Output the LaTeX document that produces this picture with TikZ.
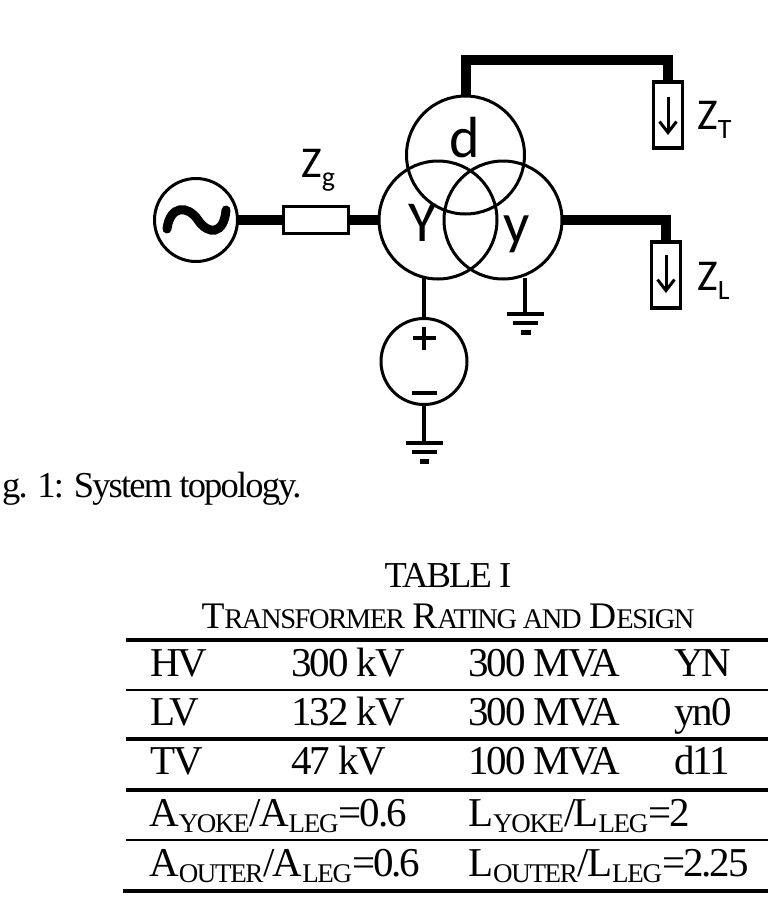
\documentclass[tikz,border=0pt]{standalone}
\usepackage{fontspec}
\usetikzlibrary{arrows.meta}
\setmainfont{Liberation Serif}
\newfontfamily\labelfont{Carlito}
\newfontfamily\tablefont[LetterSpace=-5]{Liberation Serif}
\newcommand{\smallcap}[1]{{\fontsize{28.5}{28.5}\selectfont #1}}
\newcommand{\lowcap}[1]{\raisebox{-6pt}{\fontsize{27}{27}\selectfont #1}}
\newcommand{\zlabel}[1]{Z\raisebox{-9pt}{\fontsize{28}{28}\selectfont #1}}
\tikzset{
    wire/.style = {draw=black, line width=10pt},
    thin-wire/.style = {draw=black, line width=4pt},
    ring/.style = {draw=black, line width=3pt, circle, inner sep=0pt, outer sep=0pt},
    winding/.style = {ring, minimum size=118pt},
    source/.style = {ring, minimum size=83pt},
    load-box/.style = {draw=black, fill=white, line width=3.5pt, rectangle, inner sep=0pt, outer sep=0pt},
    bar/.style = {fill=black, rectangle, inner sep=0pt, outer sep=0pt, minimum height=4pt},
    winding-text/.style = {font=\labelfont\fontsize{58}{58}\selectfont, inner sep=0pt},
    z-text/.style = {font=\labelfont\fontsize{44}{44}\selectfont, inner sep=0pt, anchor=base west},
    table-text/.style = {font=\tablefont\fontsize{41}{41}\selectfont, inner sep=0pt, anchor=base west},
    table-title/.style = {font=\tablefont\fontsize{37.5}{37.5}\selectfont, inner sep=0pt, anchor=base},
    thick-rule/.style = {draw=black, line width=4pt},
    thin-rule/.style = {draw=black, line width=2.5pt},
}

\begin{document}
\begin{tikzpicture}[x=1pt, y=-1pt]
\useasboundingbox (0,0) rectangle (780,916);

% generator and grid impedance
\node [source] (gen) at (196,220) {};
\draw [line width=9pt, line cap=round] (167,229) .. controls (170,205) and (188,205) .. (198,220) .. controls (208,235) and (224,235) .. (226,210);
\node [load-box, minimum width=65pt, minimum height=27pt] (zg) at (316,220) {};
\node [z-text] (zg-text) at (301,177) {\zlabel{g}};

% three windings
\node [winding] (wind-hv) at (438,220) {};
\node [winding] (wind-lv) at (503,220) {};
\node [winding] (wind-tv) at (465.5,155) {};
\node [winding-text] (hv-text) at (423,223) {Y};
\node [winding-text] (lv-text) at (517,234) {y};
\node [winding-text] (tv-text) at (465,138) {d};

% loads
\node [load-box, minimum width=29pt, minimum height=66pt] (zt) at (668,115) {};
\node [load-box, minimum width=29pt, minimum height=66pt] (zl) at (666,275) {};
\node [z-text] (zt-text) at (697,129) {\zlabel{T}};
\node [z-text] (zl-text) at (697,290) {\zlabel{L}};
\coordinate (zt-turn) at (668,59.5);
\coordinate (zl-turn) at (666,220);

\draw [wire] (gen.east) -- (zg.west);
\draw [wire] (zg.east) -- (wind-hv.west);
\draw [wire] (wind-tv.north) |- (zt-turn) -- (zt.north);
\draw [wire] (wind-lv.east) -- (zl-turn) -- (zl.north);

% arrows in the loads
\coordinate (zt-a) at (668,97);
\coordinate (zt-b) at (668,135);
\coordinate (zl-a) at (666,255);
\coordinate (zl-b) at (666,293);
\draw [-{Straight Barb[length=11pt,width=17pt]}, line width=3pt] (zt-a) -- (zt-b);
\draw [-{Straight Barb[length=11pt,width=17pt]}, line width=3pt] (zl-a) -- (zl-b);

% dc source and earths
\node [source, minimum size=86pt] (dc) at (424,361.5) {};
\coordinate (hv-star) at (424,278);
\coordinate (lv-star) at (525,278);
\node [bar, minimum width=37pt] (earth-dc) at (424,443) {};
\node [bar, minimum width=25pt] (earth-dc2) at (424,452) {};
\node [bar, minimum width=9pt, minimum height=5pt] (earth-dc3) at (424,461.5) {};
\node [bar, minimum width=37pt] (earth-lv) at (525,314) {};
\node [bar, minimum width=25pt] (earth-lv2) at (525.5,322.5) {};
\node [bar, minimum width=10pt, minimum height=5pt] (earth-lv3) at (526,332) {};
\node [bar, minimum width=25pt, minimum height=3.5pt] (minus) at (424,393) {};
\node [bar, minimum width=23pt, minimum height=3.5pt] (plus-h) at (424,338) {};
\node [bar, minimum width=3.5pt, minimum height=23pt] (plus-v) at (424,338) {};
\draw [thin-wire] (hv-star) -- (dc.north);
\draw [thin-wire] (dc.south) -- (earth-dc.north);
\draw [thin-wire] (lv-star) -- (earth-lv.north);

% caption
\node [table-text, font=\tablefont\fontsize{36.5}{36.5}\selectfont] (caption) at (2,497) {g. 1: System topology.};

% table
\node [table-title, font=\tablefont\fontsize{36.5}{36.5}\selectfont] (title-a) at (448,587) {TABLE I};
\node [table-title] (title-b) at (448,628) {T\smallcap{RANSFORMER} R\smallcap{ATING AND} D\smallcap{ESIGN}};

\draw [thick-rule] (126,640) -- (768,640);
\draw [thin-rule] (126,690) -- (768,690);
\draw [thick-rule] (126,739) -- (768,739);
\draw [thick-rule] (126,790) -- (768,790);
\draw [thin-rule] (126,840) -- (768,840);
\draw [thick-rule] (123,891) -- (768,891);

\node [table-text] (hv-name) at (150,676) {HV};
\node [table-text] (hv-volt) at (291,676) {300 kV};
\node [table-text] (hv-power) at (468,676) {300 MVA};
\node [table-text] (hv-group) at (674,676) {YN};
\node [table-text] (lv-name) at (150,725) {LV};
\node [table-text] (lv-volt) at (291,725) {132 kV};
\node [table-text] (lv-power) at (468,725) {300 MVA};
\node [table-text] (lv-group) at (674,725) {yn0};
\node [table-text] (tv-name) at (150,774) {TV};
\node [table-text] (tv-volt) at (291,774) {47 kV};
\node [table-text] (tv-power) at (468,774) {100 MVA};
\node [table-text] (tv-group) at (674,774) {d11};
\node [table-text] (a-yoke) at (149,826) {A\lowcap{YOKE}/A\lowcap{LEG}=0.6};
\node [table-text] (l-yoke) at (468,826) {L\lowcap{YOKE}/L\lowcap{LEG}=2};
\node [table-text] (a-outer) at (149,876) {A\lowcap{OUTER}/A\lowcap{LEG}=0.6};
\node [table-text] (l-outer) at (468,876) {L\lowcap{OUTER}/L\lowcap{LEG}=2.25};
\end{tikzpicture}
\end{document}
